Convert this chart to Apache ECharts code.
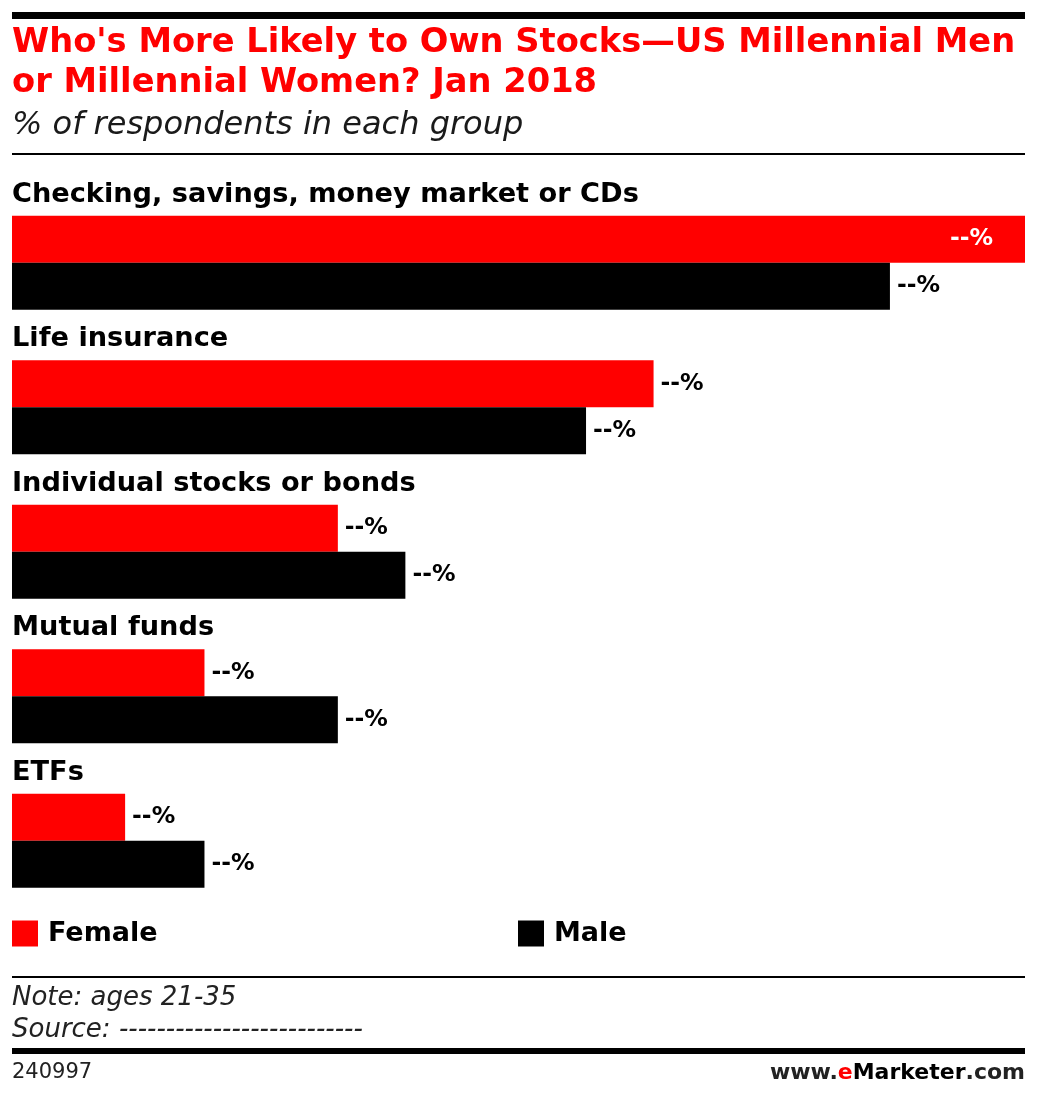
<!DOCTYPE html>
<html>
<head>
<meta charset="utf-8">
<title>Who's More Likely to Own Stocks</title>
<script src="https://cdn.jsdelivr.net/npm/echarts@6/dist/echarts.min.js"></script>
<style>
  html, body { margin: 0; padding: 0; background: #fff; }
  #chart { width: 1038px; height: 1100px; }
</style>
</head>
<body>
<div id="chart"></div>
<script>
// chart data
var categories = ['Checking, savings, money market or CDs', 'Life insurance', 'Individual stocks or bonds', 'Mutual funds', 'ETFs'];
var seriesNames = ['Female', 'Male'];
var female = [60, 38, 19.3, 11.4, 6.7];
var male = [52, 34, 23.3, 19.3, 11.4];
var valueLabel = '--%';

var FONT = '"DejaVu Sans", "Liberation Sans", sans-serif';
var RED = '#ff0000';

var myChart = echarts.init(document.getElementById('chart'));

// the longest bar carries its label inside, in white
var femaleData = female.map(function (v) {
    if (v === Math.max.apply(null, female)) {
        return { value: v, label: { position: 'insideRight', color: '#fff', distance: 32 } };
    }
    return v;
});

function rule(y, h) {
    return { type: 'rect', left: 12, top: y, shape: { width: 1013, height: h }, style: { fill: '#000' } };
}

var legendBase = {
    top: 920,
    padding: 0,
    itemWidth: 26,
    itemHeight: 26,
    icon: 'rect',
    selectedMode: false,
    textStyle: { fontFamily: FONT, fontSize: 27, fontWeight: 'bold', color: '#000', padding: [0, 0, 0, 5] }
};

var option = {
    backgroundColor: '#fff',
    animation: false,
    title: [{
        text: "Who's More Likely to Own Stocks\u2014US Millennial Men\nor Millennial Women? Jan 2018",
        subtext: '% of respondents in each group',
        left: 12,
        top: 23,
        padding: 0,
        itemGap: 5,
        textStyle: { fontFamily: FONT, fontSize: 33.7, fontWeight: 'bold', color: RED, lineHeight: 40 },
        subtextStyle: { fontFamily: FONT, fontSize: 32, fontStyle: 'italic', color: '#1a1a1a', lineHeight: 36 }
    }, {
        text: 'Note: ages 21-35\nSource: --------------------------',
        left: 12,
        top: 982,
        padding: 0,
        textStyle: { fontFamily: FONT, fontSize: 26, fontStyle: 'italic', fontWeight: 'normal', color: '#222', lineHeight: 32 }
    }, {
        text: '240997',
        left: 12,
        top: 1061,
        padding: 0,
        textStyle: { fontFamily: FONT, fontSize: 21, fontWeight: 'normal', color: '#222', lineHeight: 24 }
    }, {
        text: '{a|www.}{b|e}{c|Marketer}{a|.com}',
        right: 13,
        top: 1061,
        padding: 0,
        textStyle: {
            rich: {
                a: { fontFamily: FONT, fontSize: 22, color: '#222', lineHeight: 24 },
                b: { fontFamily: FONT, fontSize: 22, fontWeight: 'bold', color: RED, lineHeight: 24 },
                c: { fontFamily: FONT, fontSize: 22, fontWeight: 'bold', color: '#000', lineHeight: 24 }
            }
        }
    }],
    legend: [
        Object.assign({}, legendBase, { left: 12, data: [seriesNames[0]] }),
        Object.assign({}, legendBase, { left: 518, data: [seriesNames[1]] })
    ],
    grid: {
        left: 12,
        right: 13,
        top: 190.4,
        height: 722.5,
        containLabel: false,
        outerBoundsMode: 'none'
    },
    xAxis: {
        type: 'value',
        min: 0,
        max: 60,
        show: false
    },
    yAxis: {
        type: 'category',
        data: categories,
        inverse: true,
        axisLine: { show: false },
        axisTick: { show: false },
        splitLine: { show: false },
        axisLabel: {
            inside: true,
            interval: 0,
            margin: 0,
            align: 'left',
            // category name sits above its pair of bars
            verticalAlign: 'bottom',
            lineHeight: 136,
            fontFamily: FONT,
            fontSize: 27.2,
            fontWeight: 'bold',
            color: '#000'
        }
    },
    series: [{
        name: seriesNames[0],
        type: 'bar',
        data: femaleData,
        barWidth: 47,
        barGap: '0%',
        itemStyle: { color: RED },
        label: {
            show: true,
            position: 'right',
            distance: 7,
            formatter: valueLabel,
            fontFamily: FONT,
            fontSize: 23.5,
            fontWeight: 'bold',
            color: '#000'
        }
    }, {
        name: seriesNames[1],
        type: 'bar',
        data: male,
        barWidth: 47,
        barGap: '0%',
        itemStyle: { color: '#000' },
        label: {
            show: true,
            position: 'right',
            distance: 7,
            formatter: valueLabel,
            fontFamily: FONT,
            fontSize: 23.5,
            fontWeight: 'bold',
            color: '#000'
        }
    }],
    graphic: [
        rule(12, 7),
        rule(153, 2),
        rule(976, 2),
        rule(1048, 6)
    ]
};

myChart.setOption(option);
</script>
</body>
</html>
